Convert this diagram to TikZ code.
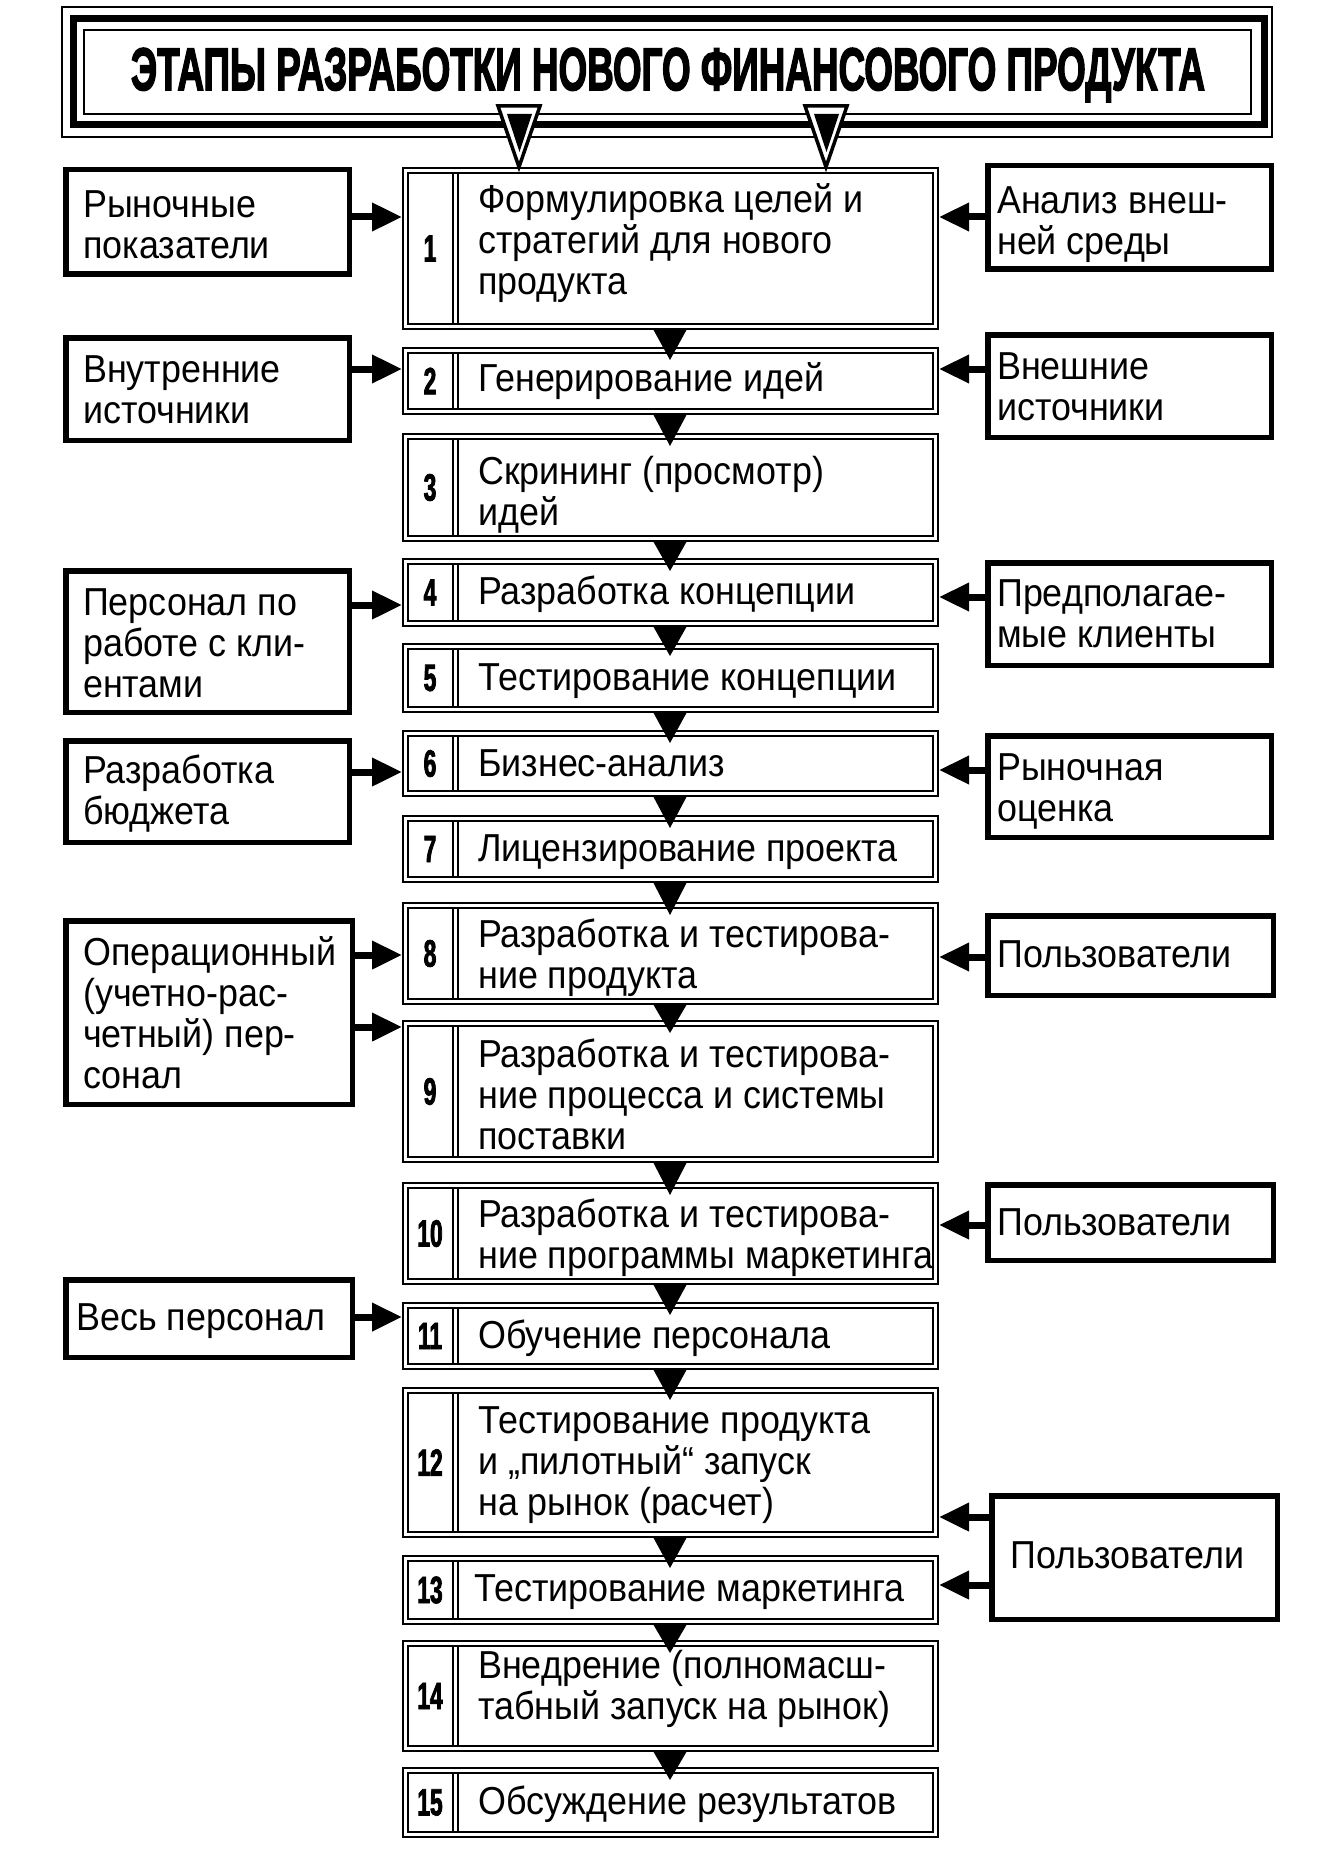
\documentclass[tikz,border=0pt]{standalone}
\usepackage{fontspec}
\usepackage{graphicx}
\setmainfont{Liberation Sans}[FakeStretch=0.92]
\newfontfamily\titlefont{Liberation Sans Bold}[FakeBold=3]
\newfontfamily\numfont{Liberation Sans Bold}[FakeStretch=0.6,FakeBold=2]
\usetikzlibrary{arrows.meta,calc}
\newcommand\mlines[1]{\vtop{\baselineskip=41pt\lineskiplimit=-100pt\lineskip=0pt\halign{##\hfil\cr#1\crcr}}}
\tikzset{
  cbox/.style={draw, line width=1.6pt, double, double distance=3.4pt, inner sep=0pt, outer sep=3.3pt},
  sbox/.style={draw, line width=5.5pt, inner sep=0pt},
  txt/.style={font=\fontsize{39pt}{41pt}\selectfont, anchor=base west, inner sep=0pt},
  num/.style={font=\numfont\fontsize{38pt}{38pt}\selectfont, inner sep=0pt},
  sarr/.style={line width=7pt, -{Triangle[length=30pt,width=27pt]}},
  thin/.style={line width=1.6pt},
}
\newcommand\cenbox[4]{%
  \pgfmathsetmacro\cbyy{(#2+#3)/2}\pgfmathsetmacro\cbhh{#3-#2-6.6}%
  \node[cbox, minimum width=530.4pt, minimum height=\cbhh pt] (#1) at (670.5,\cbyy) {};
  \draw[thin] ($(#1.north west)+(51,6)$) -- ($(#1.south west)+(51,-6)$);
  \draw[thin] ($(#1.north west)+(56,6)$) -- ($(#1.south west)+(56,-6)$);
  \node[num] (#1n) at ($(#1.west)+(28,0)$) {#4};
}
\newcommand\sidebox[5]{%
  \pgfmathsetmacro\sbxx{(#2+#3)/2}\pgfmathsetmacro\sbyy{(#4+#5)/2}%
  \pgfmathsetmacro\sbww{#3-#2-5.5}\pgfmathsetmacro\sbhh{#5-#4-5.5}%
  \node[sbox, minimum width=\sbww pt, minimum height=\sbhh pt] (#1) at (\sbxx,\sbyy) {};
}
\begin{document}
\begin{tikzpicture}[x=1pt,y=-1pt]
\useasboundingbox (0,0) rectangle (1325,1851);
\fill[white] (0,0) rectangle (1325,1851);

% title frame
\draw[line width=2.5pt] (62,7) rectangle (1272,137);
\draw[line width=7pt] (73.5,19) rectangle (1264,125);
\draw[line width=2.5pt] (84,30) rectangle (1251,114);
\node[anchor=base, inner sep=0pt] (title) at (668,90)
  {\resizebox{1074pt}{\height}{\titlefont\fontsize{60pt}{62pt}\selectfont ЭТАПЫ РАЗРАБОТКИ НОВОГО ФИНАНСОВОГО ПРОДУКТА}};

% central boxes
\cenbox{s1}{167}{330}{1}
\cenbox{s2}{347}{415}{2}
\cenbox{s3}{433}{542}{3}
\cenbox{s4}{558}{627}{4}
\cenbox{s5}{643}{713}{5}
\cenbox{s6}{730}{797}{6}
\cenbox{s7}{815}{883}{7}
\cenbox{s8}{902}{1005}{8}
\cenbox{s9}{1020}{1163}{9}
\cenbox{s10}{1182}{1285}{10}
\cenbox{s11}{1302}{1370}{11}
\cenbox{s12}{1387}{1538}{12}
\cenbox{s13}{1555}{1625}{13}
\cenbox{s14}{1640}{1752}{14}
\cenbox{s15}{1767}{1838}{15}

\node[txt] (t1) at (478,213) {\mlines{Формулировка целей и\cr стратегий для нового\cr продукта}};
\node[txt] (t2) at (478,391) {Генерирование идей};
\node[txt] (t3) at (478,484) {\mlines{Скрининг (просмотр)\cr идей}};
\node[txt] (t4) at (478,604) {Разработка концепции};
\node[txt] (t5) at (478,690) {Тестирование концепции};
\node[txt] (t6) at (478,776) {Бизнес-анализ};
\node[txt] (t7) at (478,861) {Лицензирование проекта};
\node[txt] (t8) at (478,947) {\mlines{Разработка и тестирова-\cr ние продукта}};
\node[txt] (t9) at (478,1067) {\mlines{Разработка и тестирова-\cr ние процесса и системы\cr поставки}};
\node[txt] (t10) at (478,1227) {\mlines{Разработка и тестирова-\cr ние программы маркетинга}};
\node[txt] (t11) at (478,1348) {Обучение персонала};
\node[txt] (t12) at (478,1433) {\mlines{Тестирование продукта\cr и „пилотный“ запуск\cr на рынок (расчет)}};
\node[txt] (t13) at (474,1601) {Тестирование маркетинга};
\node[txt] (t14) at (478,1678) {\mlines{Внедрение (полномасш-\cr табный запуск на рынок)}};
\node[txt] (t15) at (478,1814) {Обсуждение результатов};

% side boxes
\sidebox{L1}{63}{352}{167}{277}
\sidebox{L2}{63}{352}{335}{443}
\sidebox{L3}{63}{352}{568}{715}
\sidebox{L4}{63}{352}{738}{845}
\sidebox{L5}{63}{355}{918}{1107}
\sidebox{L6}{63}{355}{1277}{1360}
\sidebox{R1}{985}{1274}{163}{272}
\sidebox{R2}{985}{1274}{332}{440}
\sidebox{R3}{985}{1274}{560}{668}
\sidebox{R4}{985}{1274}{733}{840}
\sidebox{R5}{985}{1276}{913}{998}
\sidebox{R6}{985}{1276}{1182}{1263}
\sidebox{R7}{989}{1280}{1493}{1622}

\node[txt] (l1) at (83,218) {\mlines{Рыночные\cr показатели}};
\node[txt] (l2) at (83,382) {\mlines{Внутренние\cr источники}};
\node[txt] (l3) at (83,615) {\mlines{Персонал по\cr работе с кли-\cr ентами}};
\node[txt] (l4) at (83,783) {\mlines{Разработка\cr бюджета}};
\node[txt] (l5) at (83,965) {\mlines{Операционный\cr (учетно-рас-\cr четный) пер-\cr сонал}};
\node[txt] (l6) at (76,1330) {Весь персонал};
\node[txt] (r1) at (997,214) {\mlines{Анализ внеш-\cr ней среды}};
\node[txt] (r2) at (997,379) {\mlines{Внешние\cr источники}};
\node[txt] (r3) at (997,606) {\mlines{Предполагае-\cr мые клиенты}};
\node[txt] (r4) at (997,780) {\mlines{Рыночная\cr оценка}};
\node[txt] (r5) at (997,967) {Пользователи};
\node[txt] (r6) at (997,1235) {Пользователи};
\node[txt] (r7) at (1010,1568) {Пользователи};

% side arrows
\coordinate (a1) at (0,217);
\coordinate (a2) at (0,369);
\coordinate (a3) at (0,605);
\coordinate (a3r) at (0,597);
\coordinate (a4) at (0,772);
\coordinate (a4r) at (0,770);
\coordinate (a8) at (0,955);
\coordinate (a8r) at (0,957);
\coordinate (a9) at (0,1027);
\coordinate (a10) at (0,1225);
\coordinate (a11) at (0,1317);
\coordinate (a12) at (0,1517);
\coordinate (a13) at (0,1585);
\draw[sarr] (L1.east |- a1) -- (s1.west |- a1);
\draw[sarr] (R1.west |- a1) -- (s1.east |- a1);
\draw[sarr] (L2.east |- a2) -- (s2.west |- a2);
\draw[sarr] (R2.west |- a2) -- (s2.east |- a2);
\draw[sarr] (L3.east |- a3) -- (s4.west |- a3);
\draw[sarr] (R3.west |- a3r) -- (s4.east |- a3r);
\draw[sarr] (L4.east |- a4) -- (s6.west |- a4);
\draw[sarr] (R4.west |- a4r) -- (s6.east |- a4r);
\draw[sarr] (L5.east |- a8) -- (s8.west |- a8);
\draw[sarr] (L5.east |- a9) -- (s9.west |- a9);
\draw[sarr] (R5.west |- a8r) -- (s8.east |- a8r);
\draw[sarr] (R6.west |- a10) -- (s10.east |- a10);
\draw[sarr] (L6.east |- a11) -- (s11.west |- a11);
\draw[sarr] (R7.west |- a12) -- (s12.east |- a12);
\draw[sarr] (R7.west |- a13) -- (s13.east |- a13);

% down arrows between stages
\foreach \a/\b in {s1/s2,s2/s3,s3/s4,s4/s5,s5/s6,s6/s7,s7/s8,s8/s9,s9/s10,s10/s11,s11/s12,s12/s13,s13/s14,s14/s15}{
  \fill ($(\a.south)+(-17.5,-1)$) -- ($(\a.south)+(16.5,-1)$) -- ($(\b.north)+(-0.5,13)$) -- cycle;
}

% title triangles
\filldraw[fill=white, draw=black, line width=3.5pt, line join=miter] (498,106) -- (540,106) -- (519,167) -- cycle;
\fill (507,114) -- (532,114) -- (519.5,152) -- cycle;
\filldraw[fill=white, draw=black, line width=3.5pt, line join=miter] (805,106) -- (847,106) -- (826,167) -- cycle;
\fill (814,114) -- (839,114) -- (826.5,152) -- cycle;
\end{tikzpicture}
\end{document}
